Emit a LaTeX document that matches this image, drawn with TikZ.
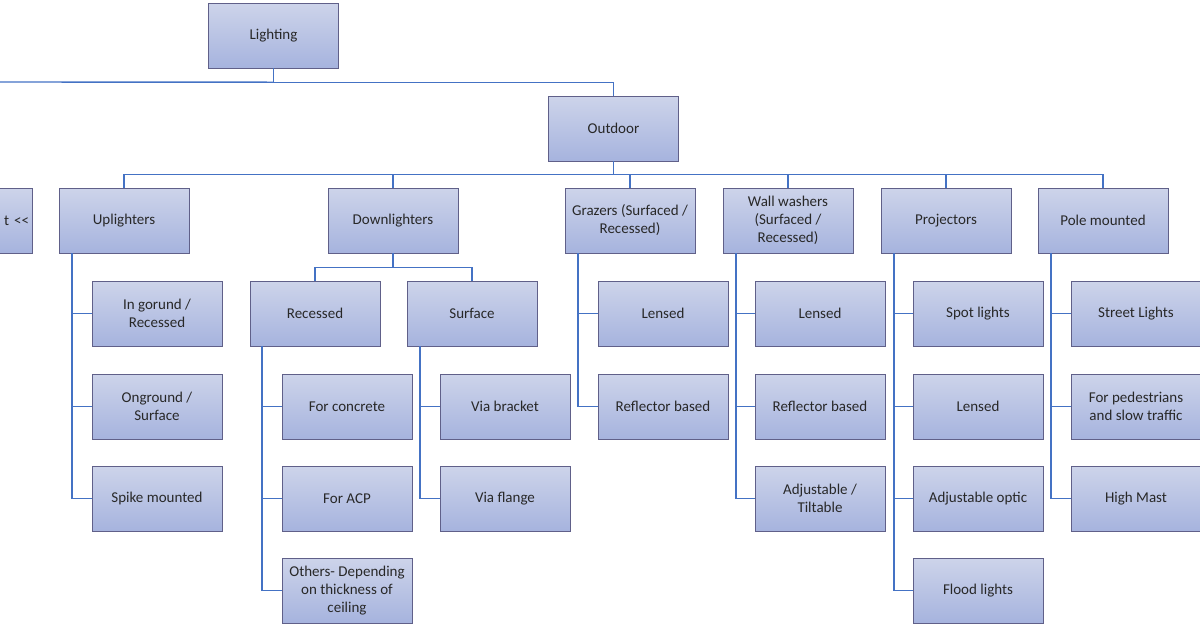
\documentclass[tikz,border=0pt]{standalone}
\usepackage{fontspec}
\setmainfont{Carlito}
\begin{document}
\begin{tikzpicture}[x=1pt,y=-1pt,
  bx/.style={draw=black!35!blue!25!gray, top color={rgb,255:red,205;green,212;blue,234}, bottom color={rgb,255:red,166;green,179;blue,222}, minimum width=130pt, minimum height=65pt, align=center, inner sep=2pt, font=\fontsize{15}{18}\selectfont, text={rgb,255:red,40;green,40;blue,40}},
  ln/.style={draw={rgb,255:red,68;green,114;blue,196}, line width=1.4pt}]
\useasboundingbox (0,0) rectangle (1200,630);
\clip (0,0) rectangle (1200,630);
\newcommand\B[4]{\node[bx] (#1) at (#2,#3) {#4};}
\B{light}{273.5}{35.5}{Lighting}
\B{out}{613.5}{128.5}{Outdoor}
\node[bx, text width=124pt, align=right] (left) at (-33,220.5) {t <{}<};
\B{up}{124}{220.5}{Uplighters}
\B{down}{393}{220.5}{Downlighters}
\B{graz}{630}{220.5}{Grazers (Surfaced /\\ Recessed)}
\B{wall}{788}{220.5}{Wall washers\\ (Surfaced /\\ Recessed)}
\B{proj}{946}{220.5}{Projectors}
\B{pole}{1103}{220.5}{Pole mounted}
\B{u1}{157}{313.5}{In gorund /\\ Recessed}
\B{u2}{157}{406.5}{Onground /\\ Surface}
\B{u3}{157}{498.5}{Spike mounted}
\B{rec}{315}{313.5}{Recessed}
\B{sur}{472}{313.5}{Surface}
\B{r1}{347}{406.5}{For concrete}
\B{r2}{347}{498.5}{For ACP}
\B{r3}{347}{590.5}{Others- Depending\\ on thickness of\\ ceiling}
\B{s1}{505}{406.5}{Via bracket}
\B{s2}{505}{498.5}{Via flange}
\B{g1}{663}{313.5}{Lensed}
\B{g2}{663}{406.5}{Reflector based}
\B{w1}{820}{313.5}{Lensed}
\B{w2}{820}{406.5}{Reflector based}
\B{w3}{820}{498.5}{Adjustable /\\ Tiltable}
\B{p1}{978}{313.5}{Spot lights}
\B{p2}{978}{406.5}{Lensed}
\B{p3}{978}{498.5}{Adjustable optic}
\B{p4}{978}{590.5}{Flood lights}
\B{o1}{1136}{313.5}{Street Lights}
\B{o2}{1136}{406.5}{For pedestrians\\ and slow traffic}
\B{o3}{1136}{498.5}{High Mast}
\draw[ln] (light.south) -- ++(0,14) -| (out.north);
\draw[ln] (light.south) ++(0,14) -- (0,82);
\foreach \c in {up,down,graz,wall,proj,pole}
  \draw[ln] (out.south) -- ++(0,13) -| (\c.north);
\foreach \c in {rec,sur}
  \draw[ln] (down.south) -- ++(0,14) -| (\c.north);
\newcommand\T[3]{\foreach \c in {#3} \draw[ln] ([xshift=#2]#1.south west) |- (\c.west);}
\T{up}{13pt}{u1,u2,u3}
\T{rec}{12pt}{r1,r2,r3}
\T{sur}{13pt}{s1,s2}
\T{graz}{13pt}{g1,g2}
\T{wall}{13pt}{w1,w2,w3}
\T{proj}{13pt}{p1,p2,p3,p4}
\T{pole}{13pt}{o1,o2,o3}
\end{tikzpicture}
\end{document}
